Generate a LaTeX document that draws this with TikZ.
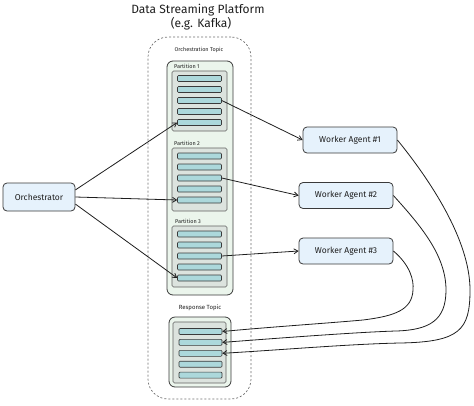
\documentclass[tikz,border=0pt]{standalone}
\usepackage{fontspec}
\setmainfont{Fira Sans}
\usetikzlibrary{arrows.meta,calc}
\definecolor{ink}{HTML}{1E1E1E}
\definecolor{edge}{HTML}{3A3A3A}
\definecolor{topicfill}{HTML}{EBF5EC}
\definecolor{partfill}{HTML}{DCE3DE}
\definecolor{barfill}{HTML}{ACD8DB}
\definecolor{agentfill}{HTML}{E6F2FC}
\definecolor{dashcol}{HTML}{6E6E6E}
\tikzset{
  every node/.style={text=ink, inner sep=0pt},
  platform/.style={draw=dashcol, line width=0.7pt, dash pattern=on 2pt off 2pt, rounded corners=20pt},
  topicbox/.style={draw=edge, line width=0.8pt, fill=topicfill, rounded corners=6pt},
  partbox/.style={draw=edge!80, line width=0.6pt, fill=partfill, rounded corners=1.5pt},
  barbox/.style={draw=edge, line width=0.6pt, fill=barfill, rounded corners=1pt, minimum width=44pt, minimum height=6pt},
  agent/.style={draw=edge, line width=0.8pt, fill=agentfill, rounded corners=4pt, font=\fontsize{8.5}{10}\selectfont},
  smalllabel/.style={font=\fontsize{5.5}{6.5}\selectfont},
  conn/.style={draw=ink, line width=0.8pt, -{Straight Barb[length=4pt,width=5pt]}},
}
\begin{document}
\begin{tikzpicture}[x=1pt,y=-1pt]
\useasboundingbox (0,0) rectangle (474,405);

% title
\node[font=\fontsize{12}{14}\selectfont] (title1) at (198,10) {Data Streaming Platform};
\node[font=\fontsize{12}{14}\selectfont] (title2) at (201,24) {(e.g. Kafka)};

% platform dashed box
\node[platform, minimum width=103pt, minimum height=362pt] (platform) at (199.5,218) {};

\node[smalllabel] (otlabel) at (199,50) {Orchestration Topic};
\node[topicbox, minimum width=66pt, minimum height=234pt] (otopic) at (200,178) {};

% partitions
\node[partbox, minimum width=55pt, minimum height=60pt] (part1) at (199.5,101) {};
\node[partbox, minimum width=55pt, minimum height=63pt] (part2) at (199.5,179.5) {};
\node[partbox, minimum width=55pt, minimum height=61pt] (part3) at (199.5,256.5) {};
\node[smalllabel, anchor=west] (p1label) at (174,66) {Partition 1};
\node[smalllabel, anchor=west] (p2label) at (174,143) {Partition 2};
\node[smalllabel, anchor=west] (p3label) at (175,221) {Partition 3};

\foreach \i in {1,...,5} {
  \node[barbox] (p1b\i) at (199.5,{78.5+11*(\i-1)}) {};
  \node[barbox] (p2b\i) at (199.5,{156+11*(\i-1)}) {};
  \node[barbox] (p3b\i) at (199.5,{234+11*(\i-1)}) {};
}

% response topic
\node[smalllabel, font=\fontsize{6}{7}\selectfont] (rtlabel) at (200,308) {Response Topic};
\node[topicbox, minimum width=62pt, minimum height=70pt] (rtopic) at (200,352) {};
\node[partbox, minimum width=53pt, minimum height=61pt] (rpart) at (199.5,352.5) {};
\foreach \i in {1,...,5} {
  \node[barbox, minimum width=43pt] (rb\i) at (200.5,{331.5+10.9*(\i-1)}) {};
}

% agents
\node[agent, minimum width=72pt, minimum height=28pt] (orch) at (39,197) {Orchestrator};
\node[agent, minimum width=94pt, minimum height=26pt] (w1) at (350,140) {Worker Agent \#1};
\node[agent, minimum width=94pt, minimum height=26pt] (w2) at (346,195.5) {Worker Agent \#2};
\node[agent, minimum width=94pt, minimum height=26pt] (w3) at (346,251) {Worker Agent \#3};

% orchestrator -> partitions
\draw[conn] (orch.11) -- (p1b5.west);
\draw[conn] (orch.east) -- (p2b5.west);
\draw[conn] (orch.-11) -- (p3b5.west);

% partitions -> workers
\draw[conn] (p1b3.east) -- (w1.west);
\draw[conn] (p2b3.east) -- (w2.west);
\draw[conn] (p3b3.east) -- (w3.west);

% workers -> response topic
\draw[conn] (w1.east) .. controls (430,180) and (470,240) .. (470,290)
  .. controls (470,330) and (460,342) .. (400,343)
  .. controls (350,344) and (280,350) .. (rb3.east);
\draw[conn] (w2.east) .. controls (420,225) and (446,255) .. (446,290)
  .. controls (446,320) and (430,330) .. (396,331)
  .. controls (360,332) and (280,338) .. (rb2.east);
\draw[conn] (w3.east) .. controls (410,265) and (414,280) .. (413,290)
  .. controls (412,310) and (395,316) .. (363,320)
  .. controls (330,323) and (270,327) .. (rb1.east);
\end{tikzpicture}
\end{document}
